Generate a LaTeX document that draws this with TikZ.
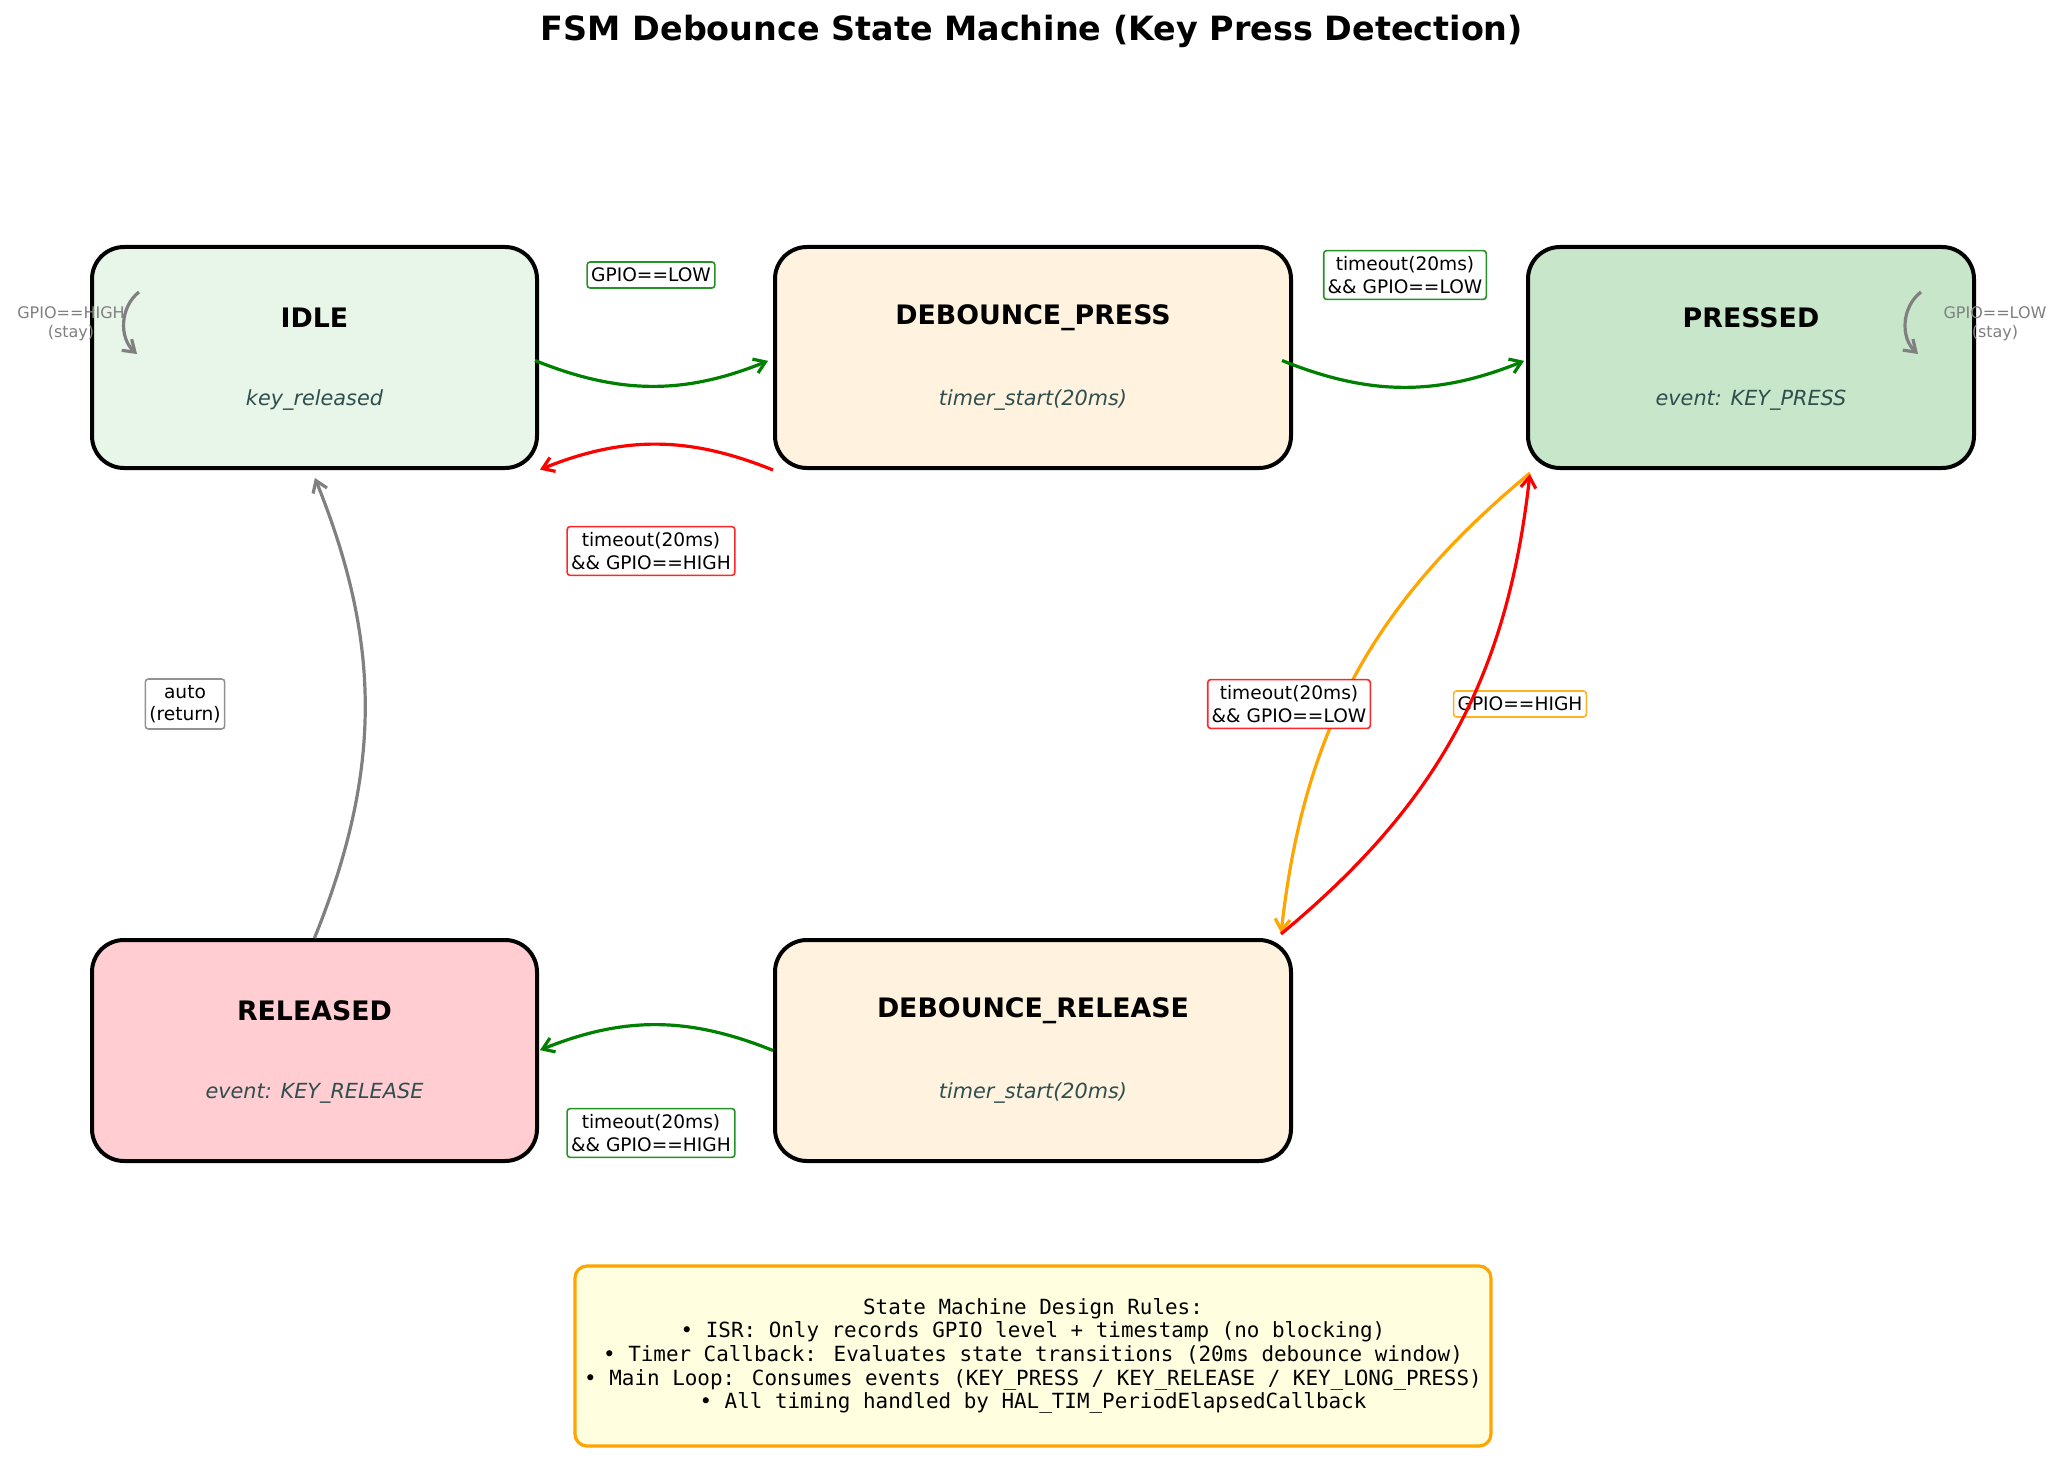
\documentclass[tikz,border=0pt]{standalone}
\usepackage{fontspec}
\setmainfont{DejaVu Sans}[ItalicFont={DejaVu Sans Oblique},BoldFont={DejaVu Sans Bold},BoldItalicFont={DejaVu Sans Bold Oblique}]
\newfontfamily\monof{DejaVu Sans Mono}
\usetikzlibrary{arrows.meta,calc}
\definecolor{idlefill}{HTML}{E8F5E9}
\definecolor{debfill}{HTML}{FFF3E0}
\definecolor{pressfill}{HTML}{C8E6C9}
\definecolor{relfill}{HTML}{FFCDD2}
\definecolor{subtext}{HTML}{2F4F4F}
\definecolor{mgreen}{HTML}{008000}
\definecolor{mred}{HTML}{FF0000}
\definecolor{morange}{HTML}{FFA500}
\definecolor{mgray}{HTML}{808080}
\definecolor{notefill}{HTML}{FFFFE0}
\begin{document}
\begin{tikzpicture}[x=0.5pt,y=-0.5pt,
  statebox/.style={draw=black, line width=2pt, rounded corners=16pt, minimum height=110.5pt, inner sep=0pt},
  statename/.style={font=\fontsize{13.4}{16}\selectfont\bfseries},
  statesub/.style={font=\fontsize{10.4}{12.5}\selectfont\itshape, text=subtext},
  edge/.style={line width=1.6pt, -{Straight Barb[length=5.5pt,width=7.5pt]}, shorten >=0.5pt, bend right=22},
  loopedge/.style={line width=1.6pt, draw=mgray, -{Straight Barb[length=5.5pt,width=7.5pt]}, bend right=50},
  elabel/.style={fill=white, line width=0.8pt, draw opacity=0.85, rounded corners=1.5pt, inner xsep=2pt, inner ysep=3pt, align=center, font=\fontsize{9.3}{11.2}\selectfont},
  looplabel/.style={align=center, text=mgray, font=\fontsize{8}{9.6}\selectfont, inner sep=0pt},
]
\useasboundingbox (0,0) rectangle (2063,1482);
\fill[white] (0,0) rectangle (2063,1482);

% title
\node[font=\fontsize{16.7}{20}\selectfont\bfseries] (title) at (1032,31) {FSM Debounce State Machine (Key Press Detection)};

% states
\node[statebox, fill=idlefill, minimum width=222.5pt] (idle) at (314.5,357.5) {};
\node[statebox, fill=debfill, minimum width=258pt] (dpress) at (1033,357.5) {};
\node[statebox, fill=pressfill, minimum width=223pt] (pressed) at (1751,357.5) {};
\node[statebox, fill=relfill, minimum width=222.5pt] (released) at (314.5,1050.5) {};
\node[statebox, fill=debfill, minimum width=258pt] (drelease) at (1033,1050.5) {};

\node[statename] (idleT) at ($(idle)+(0,-40)$) {IDLE};
\node[statesub] (idleS) at ($(idle)+(0,43)$) {key\_released};
\node[statename] (dpressT) at ($(dpress)+(0,-40)$) {DEBOUNCE\_PRESS};
\node[statesub] (dpressS) at ($(dpress)+(0,43)$) {timer\_start(20ms)};
\node[statename] (pressedT) at ($(pressed)+(0,-40)$) {PRESSED};
\node[statesub] (pressedS) at ($(pressed)+(0,43)$) {event: KEY\_PRESS};
\node[statename] (releasedT) at ($(released)+(0,-40)$) {RELEASED};
\node[statesub] (releasedS) at ($(released)+(0,43)$) {event: KEY\_RELEASE};
\node[statename] (dreleaseT) at ($(drelease)+(0,-40)$) {DEBOUNCE\_RELEASE};
\node[statesub] (dreleaseS) at ($(drelease)+(0,43)$) {timer\_start(20ms)};

% self loops
\coordinate (il1) at ($(idle)+(-175.5,-65.5)$);
\coordinate (il2) at ($(idle)+(-177.5,-3.5)$);
\draw[loopedge] (il1) to (il2);
\node[looplabel] (idleLoop) at (71,323.5) {GPIO==HIGH\\(stay)};
\coordinate (pl1) at ($(pressed)+(170,-65.5)$);
\coordinate (pl2) at ($(pressed)+(167,-3.5)$);
\draw[loopedge] (pl1) to (pl2);
\node[looplabel] (pressedLoop) at (1995,323.5) {GPIO==LOW\\(stay)};

% connection points near corners
\coordinate (pSW) at ($(pressed.south west)+(4,3)$);
\coordinate (dNE) at ($(drelease.north east)+(-12,-4)$);

% transitions
\draw[edge, draw=mgreen] ($(idle.east)+(-4,3)$) to ($(dpress.west)+(-4,3)$);
\node[elabel, draw=mgreen] (l1) at (651,275) {GPIO==LOW};

\draw[edge, draw=mgreen] ($(dpress.east)+(-11,3)$) to ($(pressed.west)+(-1,3)$);
\node[elabel, draw=mgreen] (l2) at (1405,275) {timeout(20ms)\\\&\& GPIO==LOW};

\draw[edge, draw=mred] (dpress.south west) to (idle.south east);
\node[elabel, draw=mred] (l3) at (651,551) {timeout(20ms)\\\&\& GPIO==HIGH};

\draw[edge, draw=morange] (pSW) to (dNE);
\node[elabel, draw=morange] (l4) at (1520,704) {GPIO==HIGH};

\draw[edge, draw=mred] (dNE) to (pSW);
\node[elabel, draw=mred] (l5) at (1289,704) {timeout(20ms)\\\&\& GPIO==LOW};

\draw[edge, draw=mgreen] (drelease.west) to (released.east);
\node[elabel, draw=mgreen] (l6) at (651,1133) {timeout(20ms)\\\&\& GPIO==HIGH};

\draw[edge, draw=mgray] (released.north) to ($(idle.south)+(0,7)$);
\node[elabel, draw=mgray] (l7) at (185,704) {auto\\(return)};

% notes
\node[draw=morange, fill=notefill, line width=1.6pt, rounded corners=6pt, minimum width=458pt, minimum height=90pt, align=center, font=\monof\fontsize{10.45}{11.85}\selectfont] (notes) at (1033,1356) {State Machine Design Rules:\\
• ISR: Only records GPIO level + timestamp (no blocking)\\
• Timer Callback: Evaluates state transitions (20ms debounce window)\\
• Main Loop: Consumes events (KEY\_PRESS / KEY\_RELEASE / KEY\_LONG\_PRESS)\\
• All timing handled by HAL\_TIM\_PeriodElapsedCallback};
\end{tikzpicture}
\end{document}
